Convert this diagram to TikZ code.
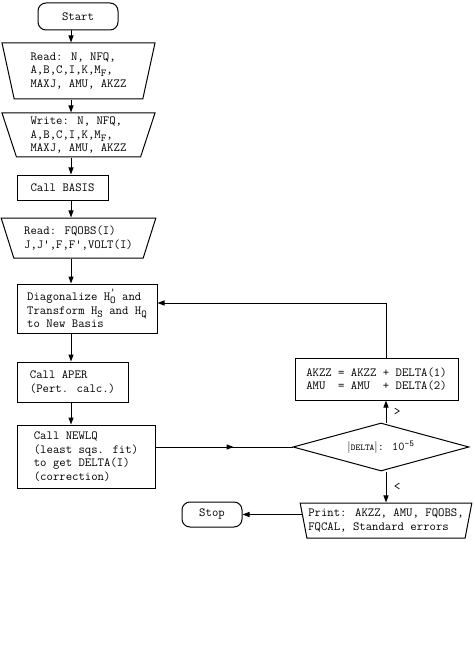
\documentclass[tikz,border=0pt]{standalone}
\usepackage{fontspec}
\usetikzlibrary{shapes.geometric}
\usetikzlibrary{arrows.meta}
\usetikzlibrary{decorations.markings}

\newcommand{\subtxt}[1]{\raisebox{-3pt}{\fontsize{10.5}{11}\selectfont #1}}

\tikzset{
  txt/.style={font=\fontsize{12.4}{13.5}\selectfont\ttfamily, align=left},
  box/.style={txt, draw, rectangle, inner sep=0pt},
  term/.style={txt, draw, rectangle, rounded corners=8pt, inner sep=0pt},
  io/.style={txt, draw, trapezium, shape border rotate=180, trapezium stretches=true, inner sep=0pt},
  cond/.style={draw, diamond, aspect=4, inner sep=0pt, font=\fontsize{12}{13}\selectfont\ttfamily},
  arr/.style={-{Triangle[length=7pt,width=5pt]}},
  midarr/.style={decoration={markings, mark=at position 0.57 with {\arrow{Triangle[length=7pt,width=5pt]}}}, postaction={decorate}},
  sign/.style={right, xshift=4pt, font=\fontsize{13}{13}\selectfont\ttfamily}
}

\begin{document}
\begin{tikzpicture}[x=1pt, y=-1pt, line width=1pt]
\useasboundingbox (0,0) rectangle (474,671);

\coordinate (axis) at (71,0);
\coordinate (axisR) at (386,0);

\node[term, minimum width=80pt, minimum height=27pt] (start) at (78,16.5) {Start};
\node[io, minimum width=153pt, minimum height=56pt, trapezium left angle=76, trapezium right angle=76] (read) at (78.5,71)
  {Read: N, NFQ,\\A,B,C,I,K,M\subtxt{F},\\MAXJ, AMU, AKZZ};
\node[io, minimum width=153pt, minimum height=44pt, trapezium left angle=73, trapezium right angle=73] (write) at (78.5,135)
  {Write: N, NFQ,\\A,B,C,I,K,M\subtxt{F},\\MAXJ, AMU, AKZZ};
\node[box, minimum width=91pt, minimum height=25pt] (basis) at (62.5,187.5) {Call BASIS};
\node[io, minimum width=155pt, minimum height=40pt, trapezium left angle=66, trapezium right angle=66] (fqobs) at (78.5,238)
  {Read: FQOBS(I)\\J,J',F,F',VOLT(I)};
\node[box, minimum width=140pt, minimum height=49pt] (diag) at (87,308.5)
  {Diagonalize H\subtxt{\rlap{\raisebox{8pt}{'}}O} and\\Transform H\subtxt{S} and H\subtxt{Q}\\to New Basis};
\node[box, minimum width=111pt, minimum height=40pt] (aper) at (72.5,382) {Call APER\\(Pert. calc.)};
\node[box, minimum width=138pt, minimum height=63pt] (newlq) at (86,456.5)
  {Call NEWLQ\\(least sqs. fit)\\to get DELTA(I)\\(correction)};
\node[cond, minimum width=176pt, minimum height=48pt] (dia) at (381,447)
  {$|$\mbox{\small\ttfamily DELTA}$|$: 10$^{\mbox{\small\ttfamily -5}}$\hspace{24pt}};
\node[box, minimum width=163pt, minimum height=42pt] (akzz) at (376.5,379)
  {AKZZ = AKZZ + DELTA(1)\\AMU\ \ = AMU\ \ + DELTA(2)};
\node[io, minimum width=172pt, minimum height=35pt, trapezium left angle=74, trapezium right angle=74] (prt) at (386,520.5)
  {Print: AKZZ, AMU, FQOBS,\\FQCAL, Standard errors};
\node[term, minimum width=60pt, minimum height=25pt] (stop) at (212,514.5) {Stop};

\draw[arr] (start.south -| axis) -- (read.north -| axis);
\draw[arr] (read.south -| axis) -- (write.north -| axis);
\draw[arr] (write.south -| axis) -- (basis.north -| axis);
\draw[arr] (basis.south -| axis) -- (fqobs.north -| axis);
\draw[arr] (fqobs.south -| axis) -- (diag.north -| axis);
\draw[arr] (diag.south -| axis) -- (aper.north -| axis);
\draw[arr] (aper.south -| axis) -- (newlq.north -| axis);
\draw[midarr] (dia.west -| newlq.east) -- (dia.west);
\draw[arr] (dia.north -| axisR) -- node[sign] {>} (akzz.south -| axisR);
\draw[arr] (dia.south -| axisR) -- node[sign] {<} (prt.north -| axisR);
\draw[arr] (akzz.north -| axisR) |- ([yshift=5.5pt]diag.east);
\draw[arr] (stop.east -| prt.west) -- (stop.east);

\end{tikzpicture}
\end{document}
